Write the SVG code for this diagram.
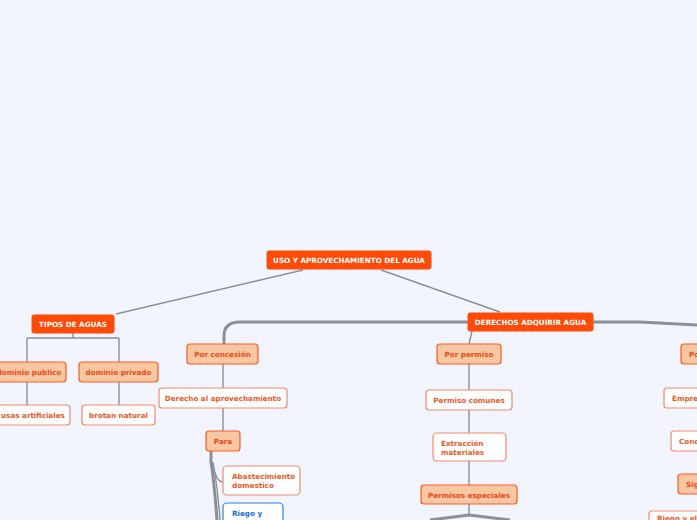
<svg xmlns="http://www.w3.org/2000/svg" width="697" height="520" viewBox="0 0 697 520">
<style>
text{font-family:"DejaVu Sans",Verdana,sans-serif;font-weight:bold;font-size:7.2px}
.m rect{fill:#ff4a08;stroke:#ff4a08}
.m text{fill:#fff}
.s rect{fill:#f6c7a0;stroke:#ff5a24;stroke-width:1.2}
.s text{fill:#ee4a1a}
.w rect{fill:#fff;stroke:#f4896a;stroke-width:1.2}
.w text{fill:#ee5a2a}
.b rect{fill:#fff;stroke:#2a82e6;stroke-width:1.2}
.b text{fill:#1a6fd8}
.c path{fill:none;stroke:#8c8f97;stroke-width:1.4}
.c .t{stroke-width:3}
</style>
<rect width="697" height="520" fill="#f2f5fe"/>
<g class="c">
<path d="M303 270 L116 314"/>
<path d="M381 270 L500 312"/>
<path d="M73 333 V338 M27 338 H119 M27 338 V362 M119 338 V362 M27 382 V405 M119 382 V405"/>
<path class="t" d="M468 322 H240 Q224 322 224 336 V344"/>
<path class="t" d="M593 322 H640 L697 325"/>
<path d="M472 331 L469 344"/>
<path d="M223 364 V388 M223 408 V431"/>
<path d="M469 364 V390 M469 410 V433 M469 461 V485 M469 504 V515"/>
<path class="t" d="M469 515 L430 520 M469 515 L510 520"/>
<path d="M211 451 V462 Q214 470 217 478 Q220 482 223 482"/>
<path class="t" d="M211 451 V462 Q214 480 217 520"/>
<path d="M213 462 Q218 490 220 520"/>
</g>
<g id="root" class="m"><rect x="267" y="251" width="164" height="18" rx="2"/><text x="349" y="263" text-anchor="middle">USO Y APROVECHAMIENTO DEL AGUA</text></g>
<g id="tipos" class="m"><rect x="32" y="315" width="82" height="18" rx="2"/><text x="73" y="327" text-anchor="middle">TIPOS DE AGUAS</text></g>
<g id="derechos" class="m"><rect x="468" y="313" width="125" height="18" rx="2"/><text x="530.5" y="325" text-anchor="middle">DERECHOS ADQUIRIR AGUA</text></g>
<g id="publico" class="s"><rect x="-12" y="362" width="78" height="20" rx="3"/><text x="29" y="375" text-anchor="middle">dominio publico</text></g>
<g id="privado" class="s"><rect x="79" y="362" width="79" height="20" rx="3"/><text x="118.5" y="375" text-anchor="middle">dominio privado</text></g>
<g id="artificiales" class="w"><rect x="-12" y="405" width="82" height="20" rx="3"/><text x="1" y="418">usas artificiales</text></g>
<g id="brotan" class="w"><rect x="82" y="405" width="73" height="20" rx="3"/><text x="118.5" y="418" text-anchor="middle">brotan natural</text></g>
<g id="concesion" class="s"><rect x="187" y="344" width="71" height="20" rx="3"/><text x="222.5" y="357" text-anchor="middle">Por concesión</text></g>
<g id="derecho" class="w"><rect x="159" y="388" width="128" height="20" rx="3"/><text x="223" y="401" text-anchor="middle">Derecho al aprovechamiento</text></g>
<g id="para" class="s"><rect x="206" y="431" width="34" height="20" rx="3"/><text x="223" y="444" text-anchor="middle">Para</text></g>
<g id="abast" class="w"><rect x="223" y="466" width="77" height="29" rx="4"/><text x="232" y="479">Abastecimiento</text><text x="232" y="488">domestico</text></g>
<g id="riego" class="b"><rect x="223" y="503" width="60" height="26" rx="4"/><text x="232" y="516">Riego y</text></g>
<g id="permiso" class="s"><rect x="437" y="344" width="64" height="20" rx="3"/><text x="469" y="357" text-anchor="middle">Por permiso</text></g>
<g id="comunes" class="w"><rect x="426" y="390" width="86" height="20" rx="3"/><text x="469" y="403" text-anchor="middle">Permiso comunes</text></g>
<g id="extraccion" class="w"><rect x="433" y="433" width="73" height="28" rx="4"/><text x="441" y="446">Extracción</text><text x="441" y="455">materiales</text></g>
<g id="especiales" class="s"><rect x="421" y="485" width="96" height="19" rx="3"/><text x="469" y="497.5" text-anchor="middle">Permisos especiales</text></g>
<g id="po" class="s"><rect x="681" y="344" width="40" height="20" rx="3"/><text x="689" y="357">Por</text></g>
<g id="empre" class="w"><rect x="664" y="388" width="60" height="20" rx="3"/><text x="672" y="401">Empresa</text></g>
<g id="conc" class="w"><rect x="671" y="431" width="60" height="20" rx="3"/><text x="679" y="444">Concesión</text></g>
<g id="sig" class="s"><rect x="678" y="474" width="50" height="20" rx="3"/><text x="686" y="487">Sig</text></g>
<g id="riego2" class="w"><rect x="649" y="511" width="80" height="20" rx="3"/><text x="657" y="521">Riego y el</text></g>
</svg>
